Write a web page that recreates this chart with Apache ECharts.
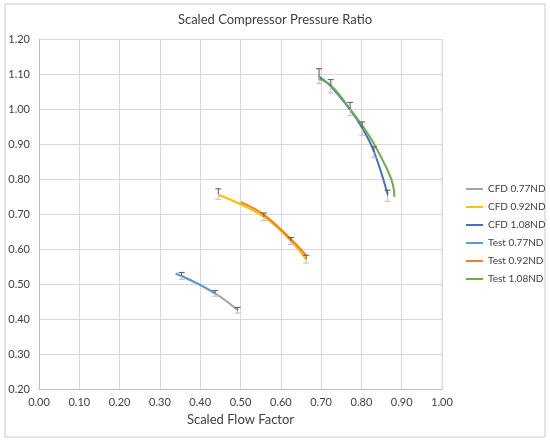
<!DOCTYPE html>
<html>
<head>
<meta charset="utf-8">
<script src="https://cdn.jsdelivr.net/npm/echarts@6/dist/echarts.min.js"></script>
<style>
  html, body { margin: 0; padding: 0; background: #fff; }
  #main { width: 550px; height: 443px; }
</style>
</head>
<body>
<div id="main"></div>
<script>
// curves, [flow factor, pressure ratio]
var cfd077 = [[0.354, 0.523], [0.437, 0.473], [0.493, 0.425]];
var cfd092 = [[0.445, 0.755], [0.558, 0.692], [0.625, 0.622], [0.663, 0.570]];
var cfd108 = [[0.693, 1.093], [0.724, 1.065], [0.772, 0.998], [0.802, 0.946], [0.831, 0.879], [0.865, 0.757]];
var test077 = [[0.339, 0.530], [0.390, 0.503], [0.437, 0.473]];
var test092 = [[0.501, 0.734], [0.558, 0.698], [0.625, 0.628], [0.663, 0.582]];
var test108 = [[0.693, 1.086], [0.724, 1.068], [0.772, 1.000], [0.802, 0.953], [0.831, 0.901], [0.865, 0.825], [0.878, 0.785], [0.882, 0.749]];
// error bars: [x, y, half-range]
var errBars = [
    [0.354, 0.523, 0.010], [0.437, 0.473, 0.008], [0.493, 0.425, 0.008],
    [0.445, 0.757, 0.015], [0.558, 0.692, 0.011], [0.625, 0.623, 0.010], [0.663, 0.571, 0.011],
    [0.695, 1.094, 0.021], [0.724, 1.065, 0.019], [0.772, 1.000, 0.019],
    [0.802, 0.944, 0.019], [0.831, 0.877, 0.015], [0.865, 0.752, 0.016]
];
var names = ['CFD 0.77ND', 'CFD 0.92ND', 'CFD 1.08ND', 'Test 0.77ND', 'Test 0.92ND', 'Test 1.08ND'];
var colors = ['#a5a5a5', '#ffc000', '#4472c4', '#5b9bd5', '#ed7d31', '#70ad47'];
var curves = [cfd077, cfd092, cfd108, test077, test092, test108];

var chart = echarts.init(document.getElementById('main'));
var font = 'Lato, "Open Sans", sans-serif';

var series = curves.map(function (d, i) {
    return {
        name: names[i],
        type: 'line',
        data: d,
        smooth: 0.4,
        showSymbol: false,
        symbol: 'none',
        lineStyle: { color: colors[i], width: 2 },
        itemStyle: { color: colors[i] },
        z: 2 + i
    };
});

series.push({
    type: 'custom',
    name: 'err',
    data: errBars,
    z: 10,
    renderItem: function (params, api) {
        var x = api.value(0), y = api.value(1), e = api.value(2);
        var c = api.coord([x, y]);
        var top = api.coord([x, y + e]);
        var bot = api.coord([x, y - e]);
        var w = 3;
        return {
            type: 'group',
            children: [
                { type: 'line', shape: { x1: c[0], y1: c[1], x2: bot[0], y2: bot[1] }, style: { stroke: '#bfbfbf', lineWidth: 1 } },
                { type: 'line', shape: { x1: bot[0] - w, y1: bot[1], x2: bot[0] + w, y2: bot[1] }, style: { stroke: '#bfbfbf', lineWidth: 1 } },
                { type: 'line', shape: { x1: top[0], y1: top[1], x2: c[0], y2: c[1] }, style: { stroke: '#595959', lineWidth: 1 } },
                { type: 'line', shape: { x1: top[0] - w, y1: top[1], x2: top[0] + w, y2: top[1] }, style: { stroke: '#595959', lineWidth: 1 } }
            ]
        };
    }
});

var option = {
    backgroundColor: '#fff',
    animation: false,
    textStyle: { fontFamily: font },
    title: {
        text: 'Scaled Compressor Pressure Ratio',
        left: 'center',
        top: 8,
        textStyle: { color: '#404040', fontWeight: 'normal', fontSize: 13, fontFamily: font }
    },
    legend: {
        data: names,
        orient: 'vertical',
        left: 461,
        top: 179,
        itemWidth: 17,
        itemHeight: 2,
        itemGap: 8,
        icon: 'rect',
        textStyle: { color: '#404040', fontSize: 10, fontFamily: font }
    },
    grid: { left: 39, right: 108, top: 39, bottom: 54 },
    xAxis: {
        type: 'value',
        min: 0, max: 1, interval: 0.1,
        name: 'Scaled Flow Factor',
        nameLocation: 'middle',
        nameGap: 21,
        nameTextStyle: { color: '#404040', fontSize: 13, fontFamily: font },
        axisLine: { show: true, onZero: false, lineStyle: { color: '#bfbfbf' } },
        axisTick: { show: false },
        splitLine: { lineStyle: { color: '#d9d9d9' } },
        axisLabel: { color: '#404040', fontSize: 11, margin: 8, formatter: function (v) { return v.toFixed(2); } }
    },
    yAxis: {
        type: 'value',
        min: 0.2, max: 1.2, interval: 0.1,
        axisLine: { show: true, lineStyle: { color: '#bfbfbf' } },
        axisTick: { show: false },
        splitLine: { lineStyle: { color: '#d9d9d9' } },
        axisLabel: { color: '#404040', fontSize: 11, margin: 9, formatter: function (v) { return v.toFixed(2); } }
    },
    graphic: [
        { type: 'rect', shape: { x: 5, y: 4, width: 540, height: 433 }, style: { fill: 'none', stroke: '#c8c8c8', lineWidth: 1 }, silent: true },
        { type: 'line', shape: { x1: 442, y1: 39, x2: 442, y2: 389 }, style: { stroke: '#d9d9d9', lineWidth: 1 }, silent: true }
    ],
    series: series
};
chart.setOption(option);
</script>
</body>
</html>
